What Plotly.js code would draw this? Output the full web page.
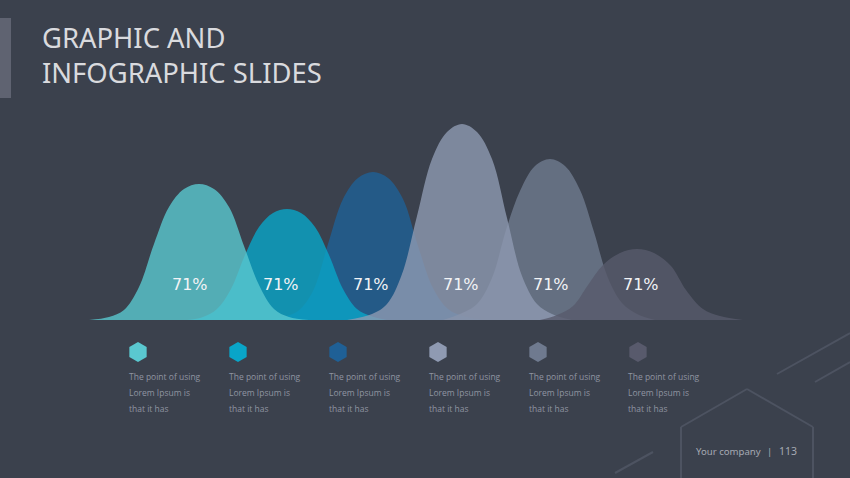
<!DOCTYPE html>
<html><head><meta charset="utf-8">
<script src="https://cdn.plot.ly/plotly-3.0.1.min.js"></script>
<style>html,body{margin:0;padding:0;background:#3b414d;overflow:hidden}#c{width:850px;height:478px}</style>
</head><body><div id="c"></div>
<script>
// Hump outlines: x position, height above the baseline
const x1=[89,109,124,139,154,169,184,199,214,229,244,259,274,289,309];
const y1=[0,3,10,33,76,113,131,136,131,113,74,35,11,3,0];
const x2=[187,203,217,231,245,259,273,287,301,315,329,343,357,371,387];
const y2=[0,3,11,31,65,93,107,111,107,93,65,31,11,4,0];
const x3=[270,283,298,313,328,343,358,373,388,403,418,433,448,463,483];
const y3=[0,3,9,29,76,121,142,148,142,121,74,32,11,4,0];
const x4=[347,372,387,402,417,432,447,462,477,492,507,522,537,552,572];
const y4=[0,6,16,46,104,161,188,196,188,161,102,44,16,6,0];
const x5=[443,460,477,492,506,520,535,550,565,580,594,608,622,637,655];
const y5=[0,6,16,42,90,129,154,161,154,130,88,42,17,6,0];
const x6=[540,557,573,588,603,620,637,654,671,686,703,720,743];
const y6=[0,5,14,35,55,67,71,67,54,30,11,4,0];
const percentLabels=['71%','71%','71%','71%','71%','71%'];
const labelX=[190,281,371,461,551,641];
const legendX=[138,238,338,438,538,638];
const legendTextX=[129,229,329,429,529,628];
const legendLines=['The point of using','Lorem Ipsum is','that it has'];
const titleLines=['GRAPHIC AND','INFOGRAPHIC SLIDES'];
const colors=['#5ac8d0','#09a5c8','#1f6096','#8f9ab2','#6f7a8f','#585a6c'];
const rgba=(h,a)=>{const n=parseInt(h.slice(1),16);return `rgba(${n>>16},${(n>>8)&255},${n&255},${a})`;};

const series=[[x1,y1],[x2,y2],[x3,y3],[x4,y4],[x5,y5],[x6,y6]];
const drawOrder=[2,1,0,4,3,5];
const traces=drawOrder.map(i=>({type:'scatter',mode:'lines',x:series[i][0],y:series[i][1],
  line:{shape:'spline',smoothing:1,width:0},fill:'tozeroy',fillcolor:rgba(colors[i],0.8),hoverinfo:'skip'}));
traces.push({type:'scatter',mode:'markers',x:legendX,y:legendX.map(()=>-32),
  marker:{symbol:'hexagon',size:20,color:colors,line:{width:0}},hoverinfo:'skip'});

const py=p=>320-p; // page row to axis value
const ann=[];
const add=(x,y,text,anchor,font)=>ann.push({x:x,y:py(y),text:text,xref:'x',yref:'y',xanchor:anchor,yanchor:'middle',showarrow:false,borderpad:0,borderwidth:0,font:font});
titleLines.forEach((t,i)=>add(42,37+i*35,t,'left',{family:'Noto Sans',size:27.4,color:'#d9dade'}));
percentLabels.forEach((t,i)=>add(labelX[i],284,t,'center',{family:'DejaVu Sans',size:16,color:'#f2f3f5'}));
legendTextX.forEach(x=>legendLines.forEach((t,j)=>add(x,376+j*16,t,'left',{family:'Open Sans',size:8.5,color:'#8f94a1'})));
const foot={family:'Noto Sans',size:9.6,color:'#a5a9b3'};
add(696,451,'Your company','left',foot);
add(769,451,'|','center',foot);
add(779,451,'113','left',{family:'Noto Sans',size:10.5,color:'#a5a9b3'});

const deco={color:'#4d5361',width:2};
const seg=(a,b,c,d)=>({type:'line',xref:'x',yref:'y',x0:a,y0:py(b),x1:c,y1:py(d),line:deco,layer:'below'});
const shapes=[
 {type:'rect',xref:'x',yref:'y',x0:0,x1:11,y0:py(18),y1:py(98),fillcolor:'#5f6371',line:{width:0},layer:'below'},
 seg(777,374,850,333),seg(815,382,850,362),seg(615,473,653,452),
 seg(681,478,681,427),seg(681,427,747,389),seg(747,389,813,427),seg(813,427,813,478)
];
Plotly.newPlot('c',traces,{
  width:850,height:478,margin:{l:0,r:0,t:0,b:0},
  paper_bgcolor:'#3b414d',plot_bgcolor:'#3b414d',showlegend:false,
  xaxis:{range:[0,850],visible:false,fixedrange:true},
  yaxis:{range:[-158,320],visible:false,fixedrange:true},
  annotations:ann,shapes:shapes
},{displayModeBar:false,staticPlot:true});
</script></body></html>
